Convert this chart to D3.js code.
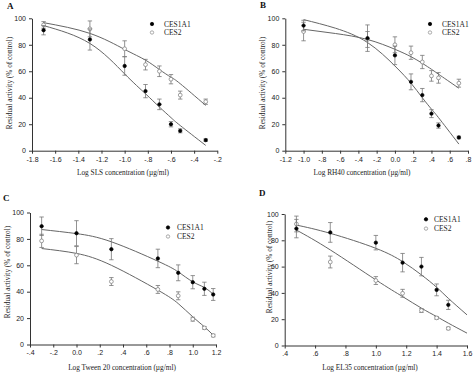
<!DOCTYPE html>
<html>
<head>
<meta charset="utf-8">
<script src="https://cdn.jsdelivr.net/npm/d3@7"></script>
<style>
  body { margin: 0; background: #fff; }
  svg { display: block; font-family: "Liberation Serif", "Times New Roman", serif; }
  .tick text { font-size: 7px; fill: #222; }
  .domain, .tick line { stroke: #333; }
</style>
</head>
<body>
<svg id="chart" width="474" height="374"></svg>
<script>
/* data */

// A - SLS
var xA = [-1.7, -1.3, -1.0, -0.82, -0.7, -0.6, -0.52, -0.3];
var ces1A = [91, 84, 64, 45, 35, 20, 15, 8];
var ces1ErrA = [3.5, 8, 7, 5, 4, 2, 1.5, 1];
var ces2A = [95, 92, 77, 65, 60, 54, 42, 37];
var ces2ErrA = [2.5, 6, 6, 4, 4, 3.5, 3, 2];
var fitXA = [-1.7, -1.3, -1.0, -0.82, -0.7, -0.6, -0.52, -0.3];
var fit1A = [94.5, 81, 58, 43, 33, 25, 19, 4];
var fit2A = [96.7, 88.6, 76.5, 68.4, 61.3, 55.5, 50.6, 34.2];
var ticksA = [-1.8, -1.6, -1.4, -1.2, -1.0, -0.8, -0.6, -0.4, -0.2];

// B - RH40
var xB = [-1.0, -0.3, 0.0, 0.176, 0.3, 0.4, 0.477, 0.7];
var ces1B = [94.5, 85, 72, 52, 42, 28, 19, 10];
var ces1ErrB = [4, 10, 7, 6, 5, 3, 2, 1];
var ces2B = [90, 84, 80, 74, 67, 56.5, 55, 51];
var ces2ErrB = [7, 6, 6, 5, 5, 4, 4, 3];
var fitXB = [-1.0, -0.65, -0.3, 0.0, 0.176, 0.3, 0.4, 0.477, 0.7];
var fit1B = [99, 92.5, 81.7, 64, 51, 40, 31.4, 25, 5];
var fit2B = [91.7, 88.5, 84, 76.6, 71, 66, 61.5, 57.8, 47.2];
var ticksB = [-1.2, -1.0, -0.8, -0.6, -0.4, -0.2, 0.0, 0.2, 0.4, 0.6, 0.8];

// C - Tween 20
var xC = [-0.3, 0.0, 0.3, 0.7, 0.875, 1.0, 1.1, 1.176];
var ces1C = [89.6, 84.3, 72.2, 65.2, 54.3, 47.2, 42.2, 37.9];
var ces1ErrC = [7, 9.5, 8, 7, 6, 5, 5, 4.5];
var ces2C = [78.5, 67.7, 47.7, 41.7, 36.9, 19.2, 12.6, 6.8];
var ces2ErrC = [5, 6.5, 3, 3, 3, 1.5, 1, 1];
var fitXC = [-0.3, 0.0, 0.3, 0.7, 0.875, 1.0, 1.1, 1.176];
var fit1C = [87.1, 84, 77.8, 63.1, 55, 47.5, 43.2, 38.1];
var fit2C = [72.7, 69, 60, 41.2, 31, 21, 13.4, 7.1];
var ticksC = [-0.4, -0.2, 0.0, 0.2, 0.4, 0.6, 0.8, 1.0, 1.2];

// D - EL35
var xD = [0.477, 0.7, 1.0, 1.176, 1.3, 1.4, 1.477];
var ces1D = [88.9, 86, 78.2, 63, 60, 42.3, 30.9];
var ces1ErrD = [7, 7.5, 5.5, 7, 7, 4.5, 3.5];
var ces2D = [92.4, 63.5, 49.4, 39.7, 26.6, 21, 13];
var ces2ErrD = [6, 4.5, 3, 3, 1.5, 1, 1];
var fitXD = [0.477, 0.7, 1.0, 1.176, 1.3, 1.4, 1.477, 1.6];
var fit1D = [91.6, 85.3, 73.9, 63.8, 53.7, 44.3, 35.9, 23.3];
var fit2D = [87.8, 72.7, 49.9, 37.2, 28.4, 22, 17, 9.4];
var ticksD = [0.4, 0.6, 0.8, 1.0, 1.2, 1.4, 1.6];

var yTicks = [0, 20, 40, 60, 80, 100];
var seriesNames = ["CES1A1", "CES2"];
var yTitle = "Residual activity (% of control)";

/* panel layout */
var panels = [
  { letter: "A", x: xA, c1: ces1A, e1: ces1ErrA, c2: ces2A, e2: ces2ErrA,
    fx: fitXA, f1: fit1A, f2: fit2A, ticks: ticksA, dom: [-1.8, -0.2],
    left: 32, right: 217.3, top: 18.3, bottom: 150.7,
    title: "Log SLS concentration (\u00b5g/ml)", titleX: 123, titleY: 175,
    letterX: 7, letterY: 9, yLabX: 9, yLabY: 83, legX: 152, legY: 24, legDX: 12, legDY: 8.5 },
  { letter: "B", x: xB, c1: ces1B, e1: ces1ErrB, c2: ces2B, e2: ces2ErrB,
    fx: fitXB, f1: fit1B, f2: fit2B, ticks: ticksB, dom: [-1.2, 0.8],
    left: 285.3, right: 468, top: 18.3, bottom: 150.7,
    title: "Log RH40 concentration (\u00b5g/ml)", titleX: 362, titleY: 175,
    letterX: 260, letterY: 8, yLabX: 262, yLabY: 83, legX: 430, legY: 24, legDX: 12, legDY: 8.5 },
  { letter: "C", x: xC, c1: ces1C, e1: ces1ErrC, c2: ces2C, e2: ces2ErrC,
    fx: fitXC, f1: fit1C, f2: fit2C, ticks: ticksC, dom: [-0.4, 1.2],
    left: 30, right: 216, top: 212.5, bottom: 344.5,
    title: "Log Tween 20 concentration (\u00b5g/ml)", titleX: 122, titleY: 370,
    letterX: 3, letterY: 201, yLabX: 7, yLabY: 272, legX: 168, legY: 227.5, legDX: 9, legDY: 9 },
  { letter: "D", x: xD, c1: ces1D, e1: ces1ErrD, c2: ces2D, e2: ces2ErrD,
    fx: fitXD, f1: fit1D, f2: fit2D, ticks: ticksD, dom: [0.4, 1.6],
    left: 284.7, right: 467, top: 214, bottom: 345.5,
    title: "Log EL35 concentration (\u00b5g/ml)", titleX: 370, titleY: 370,
    letterX: 259, letterY: 196, yLabX: 269, yLabY: 267, legX: 426, legY: 219.3, legDX: 8, legDY: 9.3 }
];

// tick labels like ".8", "-1.0", "0.0"
function fmtTick(d) {
  var s = d.toFixed(1);
  if (d !== 0 && Math.abs(d) < 1) s = s.replace("0.", ".");
  return s;
}

var svg = d3.select("#chart");

panels.forEach(function(p) {
  var xScale = d3.scaleLinear().domain(p.dom).range([p.left, p.right]);
  var yScale = d3.scaleLinear().domain([0, 100]).range([p.bottom, p.top]);

  var g = svg.append("g").attr("class", "panel");

  /* axes */
  g.append("g")
    .attr("transform", "translate(0," + p.bottom + ")")
    .call(d3.axisBottom(xScale).tickValues(p.ticks).tickFormat(fmtTick)
      .tickSize(3).tickSizeOuter(0).tickPadding(3));

  g.append("g")
    .attr("transform", "translate(" + p.left + ",0)")
    .call(d3.axisLeft(yScale).tickValues(yTicks).tickSize(3).tickSizeOuter(0).tickPadding(3));

  /* labels */
  g.append("text")
    .attr("x", p.titleX).attr("y", p.titleY)
    .attr("text-anchor", "middle")
    .style("font-size", "7.3px").style("fill", "#222")
    .text(p.title);

  g.append("text")
    .attr("transform", "translate(" + p.yLabX + "," + p.yLabY + ") rotate(-90)")
    .attr("text-anchor", "middle")
    .attr("dy", "0.35em")
    .style("font-size", "7.3px").style("fill", "#222")
    .text(yTitle);

  g.append("text")
    .attr("x", p.letterX).attr("y", p.letterY)
    .style("font-size", "9px").style("font-weight", "bold").style("fill", "#111")
    .text(p.letter);

  /* fitted curves */
  var line = d3.line().curve(d3.curveNatural)
    .x(function(d) { return xScale(d[0]); })
    .y(function(d) { return yScale(d[1]); });

  [p.f1, p.f2].forEach(function(f) {
    g.append("path")
      .datum(p.fx.map(function(v, i) { return [v, f[i]]; }))
      .attr("d", line)
      .attr("fill", "none")
      .attr("stroke", "#666")
      .attr("stroke-width", 1);
  });

  /* error bars + points */
  var sets = [
    { vals: p.c2, err: p.e2, filled: false },
    { vals: p.c1, err: p.e1, filled: true }
  ];
  sets.forEach(function(s) {
    var pts = p.x.map(function(v, i) { return { x: v, y: s.vals[i], e: s.err[i] }; });
    var eb = g.append("g").selectAll("g").data(pts).enter().append("g");
    eb.append("line")
      .attr("x1", function(d) { return xScale(d.x); })
      .attr("x2", function(d) { return xScale(d.x); })
      .attr("y1", function(d) { return yScale(d.y + d.e); })
      .attr("y2", function(d) { return yScale(d.y - d.e); })
      .attr("stroke", "#777").attr("stroke-width", 0.8);
    [1, -1].forEach(function(sg) {
      eb.append("line")
        .attr("x1", function(d) { return xScale(d.x) - 2.2; })
        .attr("x2", function(d) { return xScale(d.x) + 2.2; })
        .attr("y1", function(d) { return yScale(d.y + sg * d.e); })
        .attr("y2", function(d) { return yScale(d.y + sg * d.e); })
        .attr("stroke", "#777").attr("stroke-width", 0.8);
    });
    g.append("g").selectAll("circle").data(pts).enter().append("circle")
      .attr("cx", function(d) { return xScale(d.x); })
      .attr("cy", function(d) { return yScale(d.y); })
      .attr("r", s.filled ? 1.7 : 1.9)
      .attr("fill", s.filled ? "#000" : "#fff")
      .attr("stroke", s.filled ? "#000" : "#777")
      .attr("stroke-width", 0.7);
  });

  /* legend */
  var leg = g.append("g");
  seriesNames.forEach(function(name, i) {
    var ly = p.legY + i * p.legDY;
    leg.append("circle")
      .attr("cx", p.legX).attr("cy", ly).attr("r", 1.7)
      .attr("fill", i === 0 ? "#000" : "#fff")
      .attr("stroke", i === 0 ? "#000" : "#888")
      .attr("stroke-width", 0.7);
    leg.append("text")
      .attr("x", p.legX + p.legDX).attr("y", ly)
      .attr("dy", "0.35em")
      .style("font-size", "7.5px").style("fill", "#222")
      .text(name);
  });
});
</script>
</body>
</html>
